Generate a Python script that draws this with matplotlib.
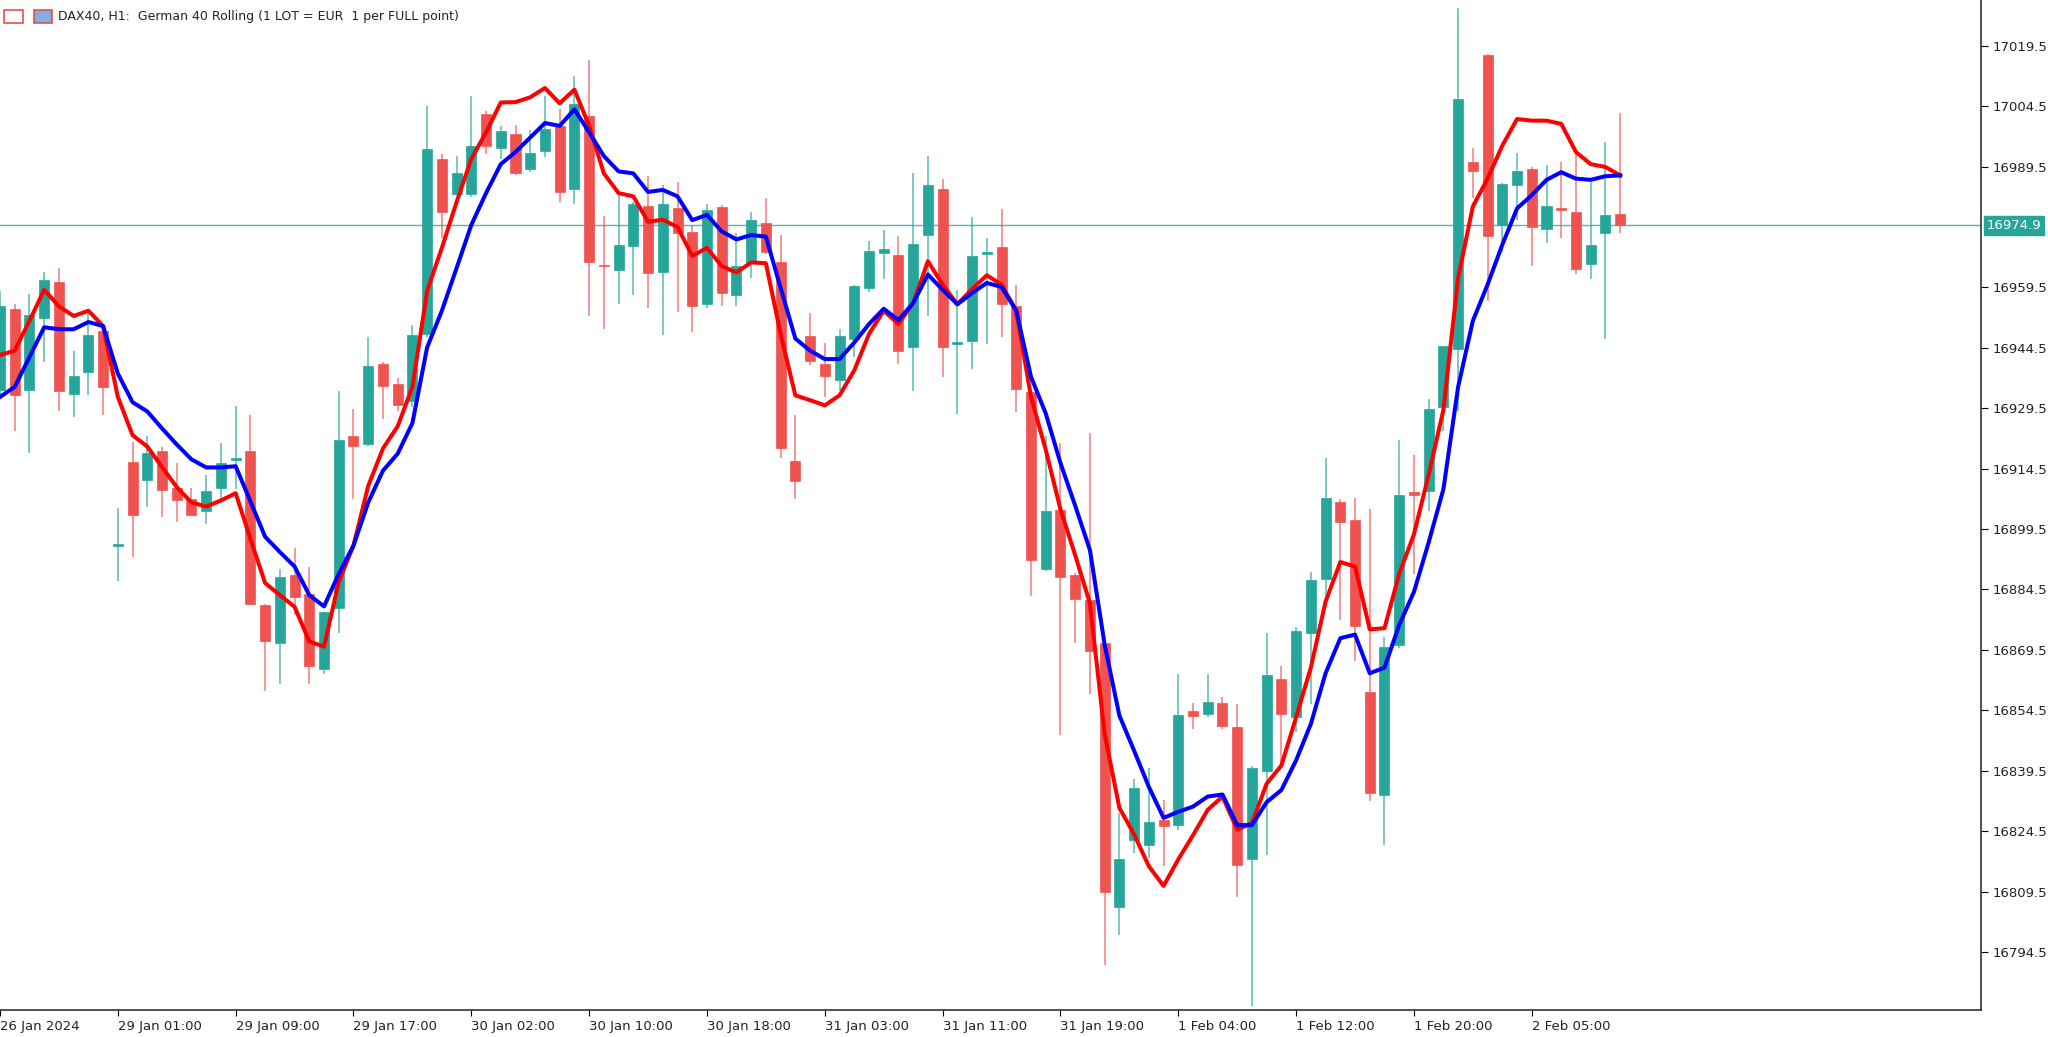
import matplotlib
matplotlib.use("Agg")
import matplotlib.pyplot as plt
from matplotlib.patches import Rectangle
import numpy as np

opens = [16934.0,16954.2,16934.0,16952.0,16960.9,16933.0,16938.4,16948.6,16895.4,16916.1,
16911.8,16919.0,16909.7,16906.9,16904.0,16909.7,16916.7,16918.9,16880.6,16871.3,
16888.0,16883.4,16864.7,16879.8,16922.7,16920.5,16940.4,16935.5,16931.2,16947.9,
16991.4,16982.7,16982.7,17002.6,16994.2,16997.5,16988.8,16993.4,16999.6,16984.0,
17002.1,16965.0,16963.8,16969.8,16979.6,16963.4,16979.1,16973.2,16955.3,16979.4,
16957.6,16965.5,16975.5,16965.7,16916.3,16947.4,16940.4,16936.4,16946.8,16959.4,
16968.0,16967.5,16944.8,16972.5,16983.9,16945.5,16946.1,16967.8,16969.6,16954.8,
16933.5,16889.7,16904.3,16888.0,16881.8,16871.3,16805.7,16822.4,16821.1,16827.3,
16826.0,16854.4,16853.6,16856.4,16850.3,16817.5,16839.5,16862.3,16852.8,16873.8,
16887.2,16906.1,16901.7,16859.0,16833.4,16870.8,16908.7,16908.9,16929.9,16944.2,
16990.6,17017.3,16975.0,16984.9,16989.0,16974.0,16979.1,16978.1,16965.2,16972.9,16977.8]
highs = [16958.6,16955.3,16957.8,16963.2,16964.3,16943.8,16953.7,16949.6,16904.8,16921.2,
16922.5,16919.9,16915.9,16909.7,16913.0,16920.9,16930.0,16927.9,16881.0,16889.7,
16894.8,16890.2,16879.0,16933.7,16929.4,16947.1,16940.9,16936.9,16950.1,17004.5,
16992.7,16992.1,17007.0,17003.2,16999.6,16999.9,16998.6,17007.0,17003.7,17011.9,
17016.0,16977.3,16982.7,16980.7,16987.2,16984.9,16985.7,16975.0,16980.3,16979.9,
16973.0,16978.3,16981.6,16972.5,16927.7,16953.2,16945.8,16949.1,16960.0,16970.9,
16973.7,16972.2,16987.8,16992.1,16986.5,16958.9,16977.0,16971.7,16979.0,16960.2,
16934.0,16922.5,16920.9,16888.5,16923.3,16872.0,16829.0,16837.5,16840.1,16832.2,
16863.4,16856.4,16863.4,16857.7,16856.0,16840.8,16873.8,16865.4,16875.2,16888.8,
16917.2,16906.9,16907.2,16904.5,16872.8,16921.7,16917.9,16931.8,16945.0,17028.8,
16994.0,17017.5,16985.5,16992.9,16989.5,16989.8,16990.6,16992.6,16985.7,16995.5,17002.9]
lows = [16932.3,16923.8,16918.4,16940.9,16928.7,16927.3,16932.7,16927.7,16886.6,16892.5,
16904.9,16902.5,16901.2,16903.1,16900.8,16906.1,16909.4,16880.6,16859.3,16861.0,
16878.2,16861.0,16863.4,16873.6,16906.9,16920.0,16926.9,16928.7,16929.9,16947.1,
16971.7,16982.7,16982.0,16992.7,16991.4,16987.3,16988.1,16991.9,16980.7,16980.3,
16952.5,16949.1,16955.3,16957.5,16954.5,16947.6,16953.3,16948.4,16954.5,16955.0,
16955.0,16961.9,16967.8,16917.2,16906.9,16940.2,16932.3,16934.0,16942.2,16958.3,
16961.6,16940.5,16933.7,16952.4,16937.3,16928.1,16939.2,16945.5,16947.1,16928.6,
16882.8,16889.0,16848.3,16871.3,16858.5,16791.2,16798.6,16819.1,16817.8,16815.8,
16824.9,16849.8,16852.8,16849.8,16808.1,16781.1,16818.6,16841.3,16849.0,16856.0,
16882.3,16877.0,16866.7,16831.9,16821.1,16870.0,16888.3,16903.9,16923.8,16928.7,
16981.6,16956.1,16968.4,16976.3,16964.7,16970.6,16971.7,16962.9,16961.6,16946.6,16973.0]
closes = [16954.8,16932.7,16952.7,16961.4,16933.7,16937.4,16947.6,16934.8,16895.6,16903.0,
16918.4,16909.2,16906.6,16903.1,16909.0,16915.9,16916.9,16881.0,16871.6,16887.5,
16882.6,16865.4,16879.0,16921.7,16920.0,16940.1,16935.0,16930.4,16947.6,16993.9,
16978.3,16988.0,16994.7,16994.7,16998.3,16988.0,16992.9,16998.8,16983.2,17005.0,
16965.7,16964.8,16970.1,16980.3,16963.0,16980.3,16972.9,16955.0,16978.6,16958.1,
16964.7,16976.2,16968.3,16919.7,16911.5,16941.2,16937.6,16947.4,16959.9,16968.6,
16969.1,16943.8,16970.2,16984.9,16944.8,16945.5,16967.3,16968.3,16955.3,16934.3,
16891.8,16903.9,16887.5,16882.1,16869.2,16809.3,16817.5,16835.2,16826.8,16825.7,
16853.4,16853.1,16856.5,16850.6,16816.2,16840.1,16863.3,16853.6,16874.3,16886.9,
16907.2,16901.2,16875.4,16833.9,16870.3,16908.0,16908.0,16929.4,16945.0,17006.3,
16988.5,16972.2,16985.2,16988.5,16974.5,16979.6,16978.6,16964.0,16970.1,16977.5,16974.9]
ma_fast = [16942.7,16943.8,16951.2,16958.9,16954.8,16952.4,16953.7,16949.9,16932.3,16922.8,
16920.0,16914.9,16909.9,16906.1,16905.1,16906.6,16908.4,16897.1,16886.1,16883.1,
16880.2,16871.6,16870.3,16886.4,16895.4,16910.2,16919.5,16925.0,16934.8,16958.6,
16969.3,16980.7,16991.4,16998.0,17005.4,17005.5,17006.7,17009.0,17005.2,17008.6,
16999.6,16987.8,16982.9,16982.1,16975.8,16976.3,16974.5,16967.3,16969.3,16964.8,
16963.2,16965.7,16965.5,16947.9,16932.7,16931.5,16930.2,16932.7,16938.9,16947.9,
16953.7,16950.4,16955.6,16966.0,16960.2,16955.3,16959.1,16962.5,16960.2,16953.7,
16932.3,16919.2,16904.4,16893.0,16881.1,16848.6,16830.3,16823.7,16815.8,16810.9,
16817.5,16823.5,16829.8,16833.1,16824.9,16826.5,16836.3,16840.8,16852.8,16865.1,
16881.5,16891.3,16890.2,16874.6,16874.9,16888.4,16898.2,16913.0,16929.1,16961.9,
16979.6,16986.5,16994.7,17001.3,17000.9,17000.9,17000.1,16993.1,16990.1,16989.4,16987.3]
ma_slow = [16932.3,16934.8,16942.2,16949.6,16949.1,16949.1,16950.9,16949.9,16938.1,16931.0,
16928.7,16924.5,16920.5,16916.8,16914.8,16914.8,16915.1,16906.4,16897.6,16893.8,
16890.2,16883.1,16880.3,16888.4,16895.4,16906.1,16914.0,16918.2,16925.8,16944.6,
16953.7,16964.3,16975.0,16982.9,16990.1,16993.1,16996.7,17000.3,16999.6,17003.7,
16998.0,16992.1,16988.3,16987.8,16983.2,16983.7,16982.1,16976.2,16977.5,16973.4,
16971.4,16972.5,16972.1,16959.4,16946.8,16943.8,16941.7,16941.7,16945.8,16950.4,
16954.2,16951.4,16955.6,16962.7,16958.9,16955.3,16958.1,16960.6,16959.6,16953.7,
16937.3,16928.2,16915.9,16905.3,16894.3,16870.8,16853.2,16844.5,16835.5,16827.8,
16829.3,16830.6,16833.1,16833.6,16826.0,16826.0,16831.7,16834.7,16842.1,16851.1,
16863.7,16872.4,16873.3,16863.7,16865.1,16875.7,16883.9,16896.2,16909.4,16934.8,
16951.2,16960.2,16970.1,16979.1,16982.4,16986.2,16988.1,16986.5,16986.2,16987.1,16987.3]

time_labels = ["26 Jan 2024","29 Jan 01:00","29 Jan 09:00","29 Jan 17:00","30 Jan 02:00",
"30 Jan 10:00","30 Jan 18:00","31 Jan 03:00","31 Jan 11:00","31 Jan 19:00",
"1 Feb 04:00","1 Feb 12:00","1 Feb 20:00","2 Feb 05:00"]
label_idx = [0,8,16,24,32,40,48,56,64,72,80,88,96,104]
price_ticks = [16794.5,16809.5,16824.5,16839.5,16854.5,16869.5,16884.5,16899.5,
               16914.5,16929.5,16944.5,16959.5,16989.5,17004.5,17019.5]
last_price = 16974.9

UP = "#26a69a"; DN = "#ef5350"

fig = plt.figure(figsize=(20.48, 10.37), dpi=100)
ax = fig.add_axes([0, 1-1010/1037, 1981/2048, 1010/1037])
x = np.arange(len(opens))
w = 0.68
for i in x:
    o, h, l, c = opens[i], highs[i], lows[i], closes[i]
    col = UP if c >= o else DN
    ax.vlines(i, l, h, color=col, lw=1.3, alpha=0.65, zorder=2)
    bot = min(o, c); ht = max(abs(c-o), 0.35)
    ax.add_patch(Rectangle((i-w/2, bot), w, ht, facecolor=col, edgecolor=col, lw=0.5, zorder=3))
ax.plot(x, ma_fast, color="#ff0000", lw=2.9, zorder=4, solid_joinstyle="round")
ax.plot(x, ma_slow, color="#0000ff", lw=2.9, zorder=4, solid_joinstyle="round")
ax.axhline(last_price, color=UP, lw=1.0, alpha=0.8, zorder=1)

ax.set_xlim(0.257, 134.5)
ax.set_ylim(16780.1, 17030.85)
ax.yaxis.tick_right()
ax.set_yticks(price_ticks)
ax.set_yticklabels([f"{p:.1f}" for p in price_ticks], fontsize=9.5, color="#222222")
ax.set_xticks(label_idx)
ax.set_xticklabels(time_labels, fontsize=9.5, ha="left", color="#222222")
ax.tick_params(axis="x", length=4, pad=3)
ax.tick_params(axis="y", length=5, pad=3)
for s in ["top", "left"]:
    ax.spines[s].set_visible(False)
for s in ["right", "bottom"]:
    ax.spines[s].set_color("#333333")
    ax.spines[s].set_linewidth(1.2)
ax.text(1.003, last_price, f"{last_price:.1f}", transform=ax.get_yaxis_transform(),
        fontsize=9.5, color="white", va="center", ha="left",
        bbox=dict(boxstyle="square,pad=0.2", facecolor=UP, edgecolor=UP))
fig.text(0.0285, 0.99, "DAX40, H1:  German 40 Rolling (1 LOT = EUR  1 per FULL point)",
         fontsize=9, va="top", ha="left", color="#222222")
fig.patches.append(Rectangle((0.002, 0.978), 0.009, 0.012, transform=fig.transFigure,
                             facecolor="white", edgecolor="#e05050", lw=1.2))
fig.patches.append(Rectangle((0.0165, 0.978), 0.009, 0.012, transform=fig.transFigure,
                             facecolor="#7fb0e0", edgecolor="#e05050", lw=1.2))
fig.savefig("out.png", dpi=100, facecolor="white")
